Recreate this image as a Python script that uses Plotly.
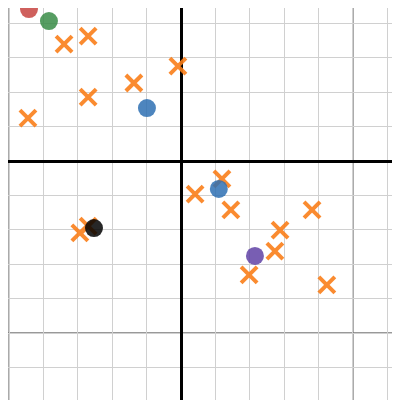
import plotly.graph_objects as go

# scattered crosses (orange)
cross_x = [-3.40, -2.70, -4.45, -2.70, -1.37, -0.09, 0.41, 1.19, 1.45, -2.70, -2.94, 2.88, 3.81, 2.73, 1.98, 4.24]
cross_y = [3.40, 3.63, 1.25, 1.86, 2.27, 2.76, -0.96, -0.52, -1.42, -1.89, -2.09, -2.01, -1.42, -2.62, -3.31, -3.60]

# single coloured points
pt_x = [-4.42, -3.84, -0.99, 1.10, -2.53, 2.15]
pt_y = [4.42, 4.07, 1.54, -0.81, -1.95, -2.76]
pt_colors = ["#c74440", "#388c46", "#2d70b3", "#2d70b3", "#000000", "#6042a6"]

fig = go.Figure()
fig.add_trace(go.Scatter(
    x=cross_x, y=cross_y, mode="markers", cliponaxis=False,
    marker=dict(symbol="x-thin", size=16, line=dict(width=4, color="#fa7e19")),
    opacity=0.9,
))
fig.add_trace(go.Scatter(
    x=pt_x, y=pt_y, mode="markers", cliponaxis=False,
    marker=dict(size=18, color=pt_colors), opacity=0.85,
))

# darker major grid lines every 5 units
for v in [-5, 5]:
    fig.add_shape(type="line", x0=v, x1=v, y0=-9, y1=6, line=dict(color="#777", width=1.3), layer="below")
    fig.add_shape(type="line", y0=v, y1=v, x0=-6, x1=8, line=dict(color="#777", width=1.3), layer="below")

axis = dict(dtick=1, gridcolor="#d0d0d0", gridwidth=1, showticklabels=False,
            zeroline=True, zerolinecolor="#000", zerolinewidth=2.5, ticks="")
fig.update_xaxes(range=[-5.03, 6.60], **axis)
fig.update_yaxes(range=[-7.18, 4.45], **axis)
fig.update_layout(width=400, height=400, margin=dict(l=0, r=0, t=0, b=0),
                  plot_bgcolor="white", paper_bgcolor="white", showlegend=False)
fig.write_html("out.html")
